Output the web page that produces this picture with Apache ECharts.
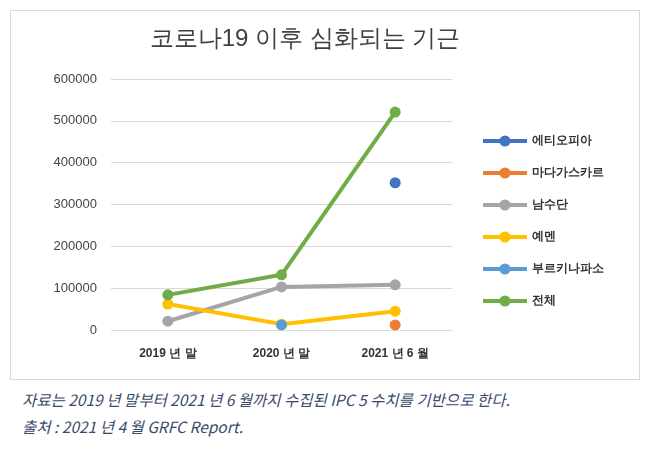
<!DOCTYPE html>
<html>
<head>
<meta charset="utf-8">
<script src="https://cdn.jsdelivr.net/npm/echarts@6/dist/echarts.min.js"></script>
<style>
  body { margin:0; background:#fff; font-family:"Noto Sans CJK KR", sans-serif; }
  #box { position:absolute; left:10px; top:10px; width:628px; height:368px; border:1px solid #d9d9d9; }
  #chart { position:absolute; left:0; top:0; width:651px; height:380px; }
  .note { position:absolute; left:22px; font-style:italic; color:#3a4a6b; font-size:15.5px; }
</style>
</head>
<body>
<div id="box"></div>
<div id="chart"></div>
<div class="note" style="top:388px">자료는 2019 년 말부터 2021 년 6 월까지 수집된 IPC 5 수치를 기반으로 한다.</div>
<div class="note" style="top:415px">출처 : 2021 년 4 월 GRFC Report.</div>
<script>
var categories = ['2019 년 말', '2020 년 말', '2021 년 6 월'];
var ethiopia = [null, null, 352000];
var madagascar = [null, null, 12000];
var southSudan = [21000, 103000, 108000];
var yemen = [62000, 14000, 45000];
var burkina = [null, 12000, null];
var total = [84000, 132000, 521000];

var chart = echarts.init(document.getElementById('chart'));
function s(name, data, color) {
    return { name: name, type: 'line', data: data, symbol: 'circle', symbolSize: 11,
             lineStyle: { width: 4, color: color }, itemStyle: { color: color } };
}
chart.setOption({
    title: { text: '코로나19 이후 심화되는 기근', left: 300, top: 22, textAlign: 'center',
             textStyle: { fontSize: 24, fontWeight: 'normal', color: '#404040' } },
    legend: { orient: 'vertical', left: 476, top: 130, itemGap: 20, itemWidth: 44, itemHeight: 14,
              itemStyle: { borderWidth: 0 }, lineStyle: { width: 4 },
              textStyle: { fontSize: 12, fontWeight: 'bold', color: '#333' },
              data: ['에티오피아', '마다가스카르', '남수단', '예멘', '부르키나파소', '전체'] },
    grid: { left: 111, right: 199, top: 79, bottom: 50 },
    xAxis: { type: 'category', data: categories, axisLine: { show: false }, axisTick: { show: false },
             axisLabel: { fontSize: 12, fontWeight: 'bold', color: '#333', margin: 18 } },
    yAxis: { type: 'value', min: 0, max: 600000, interval: 100000,
             axisLabel: { fontSize: 13, color: '#444', margin: 14, formatter: function (v) { return String(v); } },
             splitLine: { lineStyle: { color: '#d9d9d9' } } },
    series: [
        s('에티오피아', ethiopia, '#4472c4'),
        s('마다가스카르', madagascar, '#ed7d31'),
        s('남수단', southSudan, '#a5a5a5'),
        s('예멘', yemen, '#ffc000'),
        s('부르키나파소', burkina, '#5b9bd5'),
        s('전체', total, '#70ad47')
    ]
});
</script>
</body>
</html>
